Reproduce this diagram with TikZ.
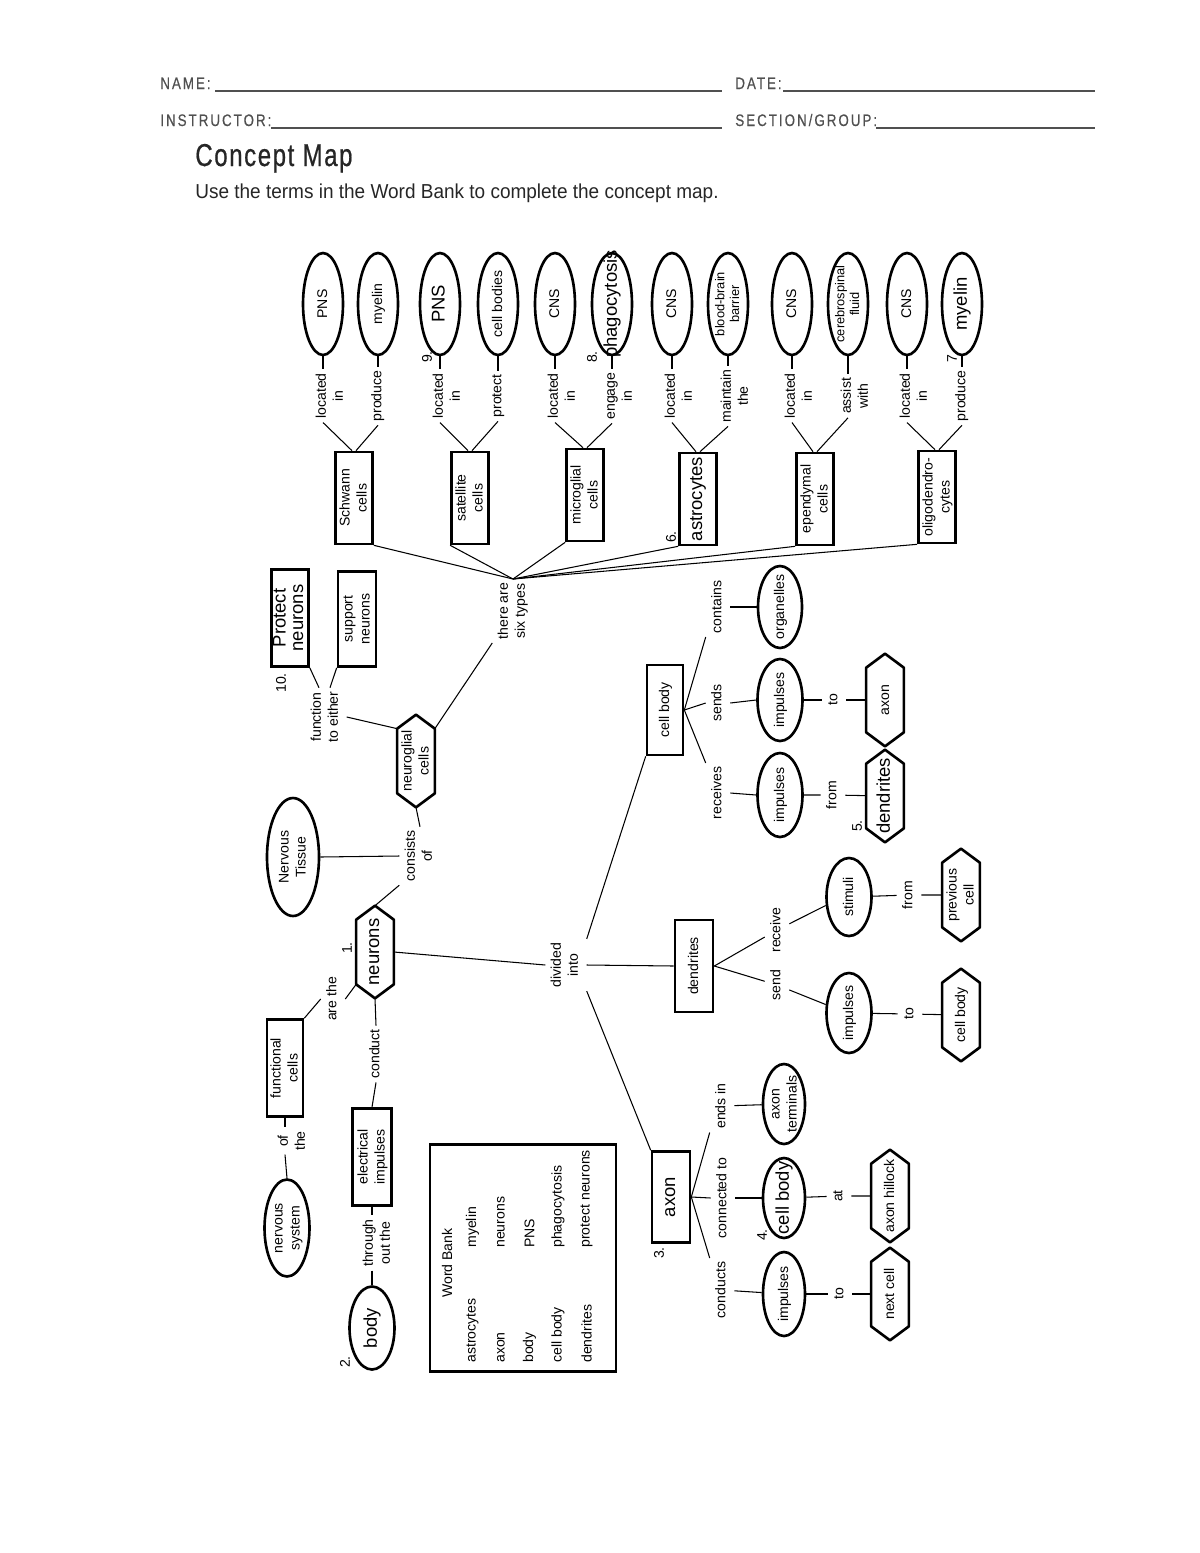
\documentclass[tikz,border=0pt]{standalone}
\usepackage{fontspec}
\setmainfont{Liberation Sans}
\newfontfamily\hdrfont[FakeStretch=0.8,LetterSpace=12,FakeBold=0.4]{Liberation Sans}
\newfontfamily\ttlfont[FakeStretch=0.76,LetterSpace=5,FakeBold=0.6]{Liberation Sans}
\newfontfamily\insfont[FakeStretch=0.94]{Liberation Sans}
\usetikzlibrary{shapes.geometric}
\definecolor{hdrgray}{RGB}{80,80,80}
\newcommand\smtxt{\fontsize{8}{9.6}\selectfont}
\newcommand\tinytxt{\fontsize{7.3}{8.4}\selectfont}
\newcommand\bigtxt{\fontsize{10.5}{10}\selectfont}
\newcommand\vt[1]{\rotatebox{90}{\begin{tabular}{@{}c@{}}#1\end{tabular}}}
\newcommand\vz[1]{\rotatebox{90}{\makebox[0pt]{\raisebox{-.3em}[0pt][0pt]{\begin{tabular}{@{}c@{}}#1\end{tabular}}}}}

\begin{document}
\begin{tikzpicture}[x=0.02cm,y=-0.02cm,
  oval/.style={ellipse, draw, line width=1.5pt, inner sep=0pt, minimum width=.8cm, minimum height=2.04cm, font=\smtxt},
  cbox/.style={rectangle, draw, line width=1.5pt, inner sep=0pt, minimum width=.74cm, minimum height=1.84cm, font=\smtxt},
  hexa/.style={inner sep=0pt, minimum width=.74cm, minimum height=1.84cm, font=\smtxt,
    append after command={\pgfextra{\draw[line width=1.5pt, line join=round]
      (\tikzlastnode.north) -- ([yshift=-.28cm]\tikzlastnode.north east)
      -- ([yshift=.28cm]\tikzlastnode.south east) -- (\tikzlastnode.south)
      -- ([yshift=.28cm]\tikzlastnode.south west) -- ([yshift=-.28cm]\tikzlastnode.north west) -- cycle;}}},
  lbl/.style={inner sep=2pt, font=\smtxt},
  num/.style={rotate=90, inner sep=0pt, font=\smtxt},
  wrd/.style={rotate=90, anchor=west, inner sep=0pt, font=\smtxt},
  big/.style={font=\bigtxt},
  small/.style={font=\tinytxt},
  link/.style={line width=.6pt},
  hdr/.style={anchor=base west, inner sep=0pt, text=hdrgray, font=\hdrfont\fontsize{9.5}{10}\selectfont},
  rule/.style={hdrgray, line width=.9pt}]
\useasboundingbox (0,0) rectangle (1200,1553);

% header
\node[hdr] (nm) at (160,89) {NAME:};
\node[hdr] (dt) at (735,89) {DATE:};
\node[hdr] (ins) at (160,126) {INSTRUCTOR:};
\node[hdr] (sec) at (735,126) {SECTION/GROUP:};
\draw[rule] (215,91) -- (722,91);
\draw[rule] (783,91) -- (1095,91);
\draw[rule] (271,128) -- (722,128);
\draw[rule] (876,128) -- (1095,128);
\node[anchor=base west, inner sep=0pt, text=black!85, font=\ttlfont\fontsize{18}{20}\selectfont] (ttl) at (195,166) {Concept Map};
\node[anchor=base west, inner sep=0pt, text=black!85, font=\insfont\fontsize{11.5}{13}\selectfont] (intro) at (195,198) {Use the terms in the Word Bank to complete the concept map.};

% top row of ovals
\node[oval] (pnsA) at (323,304) {\vz{PNS}};
\node[oval] (myeA) at (378,304) {\vz{myelin}};
\node[oval,big] (pnsB) at (440,304) {\vz{PNS}};
\node[oval] (cbod) at (498,304) {\vz{cell bodies}};
\node[oval] (cnsC) at (555,304) {\vz{CNS}};
\node[oval,big] (phag) at (612,304) {\vz{phagocytosis}};
\node[oval] (cnsD) at (672,304) {\vz{CNS}};
\node[oval,small] (bbb) at (728,304) {\vz{blood-brain\\barrier}};
\node[oval] (cnsE) at (792,304) {\vz{CNS}};
\node[oval,small] (csf) at (848,304) {\vz{cerebrospinal\\fluid}};
\node[oval] (cnsF) at (907,304) {\vz{CNS}};
\node[oval,big] (myeF) at (962,304) {\vz{myelin}};
\node[num] (n9) at (427,357) {9.};
\node[num] (n8) at (592,357) {8.};
\node[num] (n7) at (952,357) {7.};

% link words, top row
\node[lbl] (locA) at (331,396) {\vt{located\\in}};
\node[lbl] (proA) at (378,396) {\vt{produce}};
\node[lbl] (locB) at (448,396) {\vt{located\\in}};
\node[lbl] (prtB) at (498,396) {\vt{protect}};
\node[lbl] (locC) at (563,396) {\vt{located\\in}};
\node[lbl] (engC) at (620,396) {\vt{engage\\in}};
\node[lbl] (locD) at (680,396) {\vt{located\\in}};
\node[lbl] (mntD) at (736,396) {\vt{maintain\\the}};
\node[lbl] (locE) at (800,396) {\vt{located\\in}};
\node[lbl] (asE) at (856,396) {\vt{assist\\with}};
\node[lbl] (locF) at (915,396) {\vt{located\\in}};
\node[lbl] (proF) at (962,396) {\vt{produce}};

% six cell types
\node[cbox] (schw) at (354,498) {\vz{Schwann\\cells}};
\node[cbox] (sat) at (470,498) {\vz{satellite\\cells}};
\node[cbox] (micro) at (585,495) {\vz{microglial\\cells}};
\node[cbox,big] (astro) at (698,499) {\vz{astrocytes}};
\node[cbox] (epen) at (815,499) {\vz{ependymal\\cells}};
\node[cbox] (oligo) at (937,497) {\vz{oligodendro-\\cytes}};
\node[num] (n6) at (671,537) {6.};

\foreach \e/\l/\b/\d in {pnsA/locA/schw/-.04, myeA/proA/schw/.04, pnsB/locB/sat/-.04, cbod/prtB/sat/.04,
    cnsC/locC/micro/-.04, phag/engC/micro/.04, cnsD/locD/astro/-.04, bbb/mntD/astro/.04,
    cnsE/locE/epen/-.04, csf/asE/epen/.04, cnsF/locF/oligo/-.04, myeF/proF/oligo/.04}
{
  \draw[link] (\e.south) -- (\e.south |- \l.north);
  \draw[link] (\e.south |- \l.south) -- ([xshift=\d cm]\b.north);
}

\node[lbl] (six) at (513,611) {\vt{there are\\six types}};
\draw[link] (schw.south east) -- (six.north);
\foreach \b in {sat,micro,astro,epen,oligo}
  \draw[link] (\b.south west) -- (six.north);

% neuroglia
\node[hexa] (glia) at (416,761) {\vz{neuroglial\\cells}};
\draw[link] (six.south west) -- ([yshift=-.28cm]glia.north east);
\node[cbox,big,minimum height=1.94cm] (prot) at (290,618) {\vz{Protect\\neurons}};
\node[cbox,minimum width=.76cm,minimum height=1.9cm] (supp) at (357,619) {\vz{support\\neurons}};
\node[num] (n10) at (281,683) {10.};
\node[lbl] (func) at (326,717) {\vt{function\\to either}};
\draw[link] ([xshift=-.14cm]func.north) -- (prot.south east);
\draw[link] ([xshift=.08cm]func.north) -- (supp.south west);
\draw[link] (func.east) -- ([yshift=-.28cm]glia.north west);

% nervous tissue
\node[oval,minimum width=1.04cm,minimum height=2.36cm] (tissue) at (293,857) {\vz{Nervous\\Tissue}};
\node[lbl] (cons) at (420,856) {\vt{consists\\of}};
\node[hexa,big] (neur) at (375,952) {\vz{neurons}};
\node[num] (n1) at (347,948) {1.};
\draw[link] (glia.south) -- (cons.north);
\draw[link] (tissue.east) -- (cons.west);
\draw[link] (cons.south west) -- (neur.north);

% neurons, left branch
\node[lbl] (arethe) at (333,999) {\vt{are the}};
\node[cbox,minimum width=.72cm,minimum height=1.94cm] (fcell) at (285,1068) {\vz{functional\\cells}};
\draw[link] ([yshift=.28cm]neur.south west) -- (arethe.east);
\draw[link] (arethe.west) -- (fcell.north east);
\node[lbl] (cond) at (376,1054) {\vt{conduct}};
\node[cbox,minimum width=.78cm,minimum height=1.94cm] (elec) at (372,1157) {\vz{electrical\\impulses}};
\draw[link] (neur.south) -- (cond.north);
\draw[link] (cond.south) -- (elec.north);
\node[lbl] (ofthe) at (293,1141) {\vt{of\\the}};
\node[oval,minimum width=.9cm,minimum height=1.94cm] (nsys) at (287,1228) {\vz{nervous\\system}};
\draw[link] (fcell.south) -- (fcell.south |- ofthe.north);
\draw[link] (fcell.south |- ofthe.south) -- (nsys.north);
\node[lbl] (thru) at (378,1243) {\vt{through\\out the}};
\node[oval,big,minimum width=.9cm,minimum height=1.66cm] (body) at (372,1328) {\vz{body}};
\node[num] (n2) at (345,1362) {2.};
\draw[link] (elec.south) -- (elec.south |- thru.north);
\draw[link] (elec.south |- thru.south) -- (body.north);

% word bank
\node[draw, line width=1.2pt, minimum width=3.72cm, minimum height=4.54cm] (bank) at (523,1258) {};
\node[wrd] (bankT) at (447,1298) {Word Bank};
\foreach \a/\b [count=\i] in {astrocytes/myelin, axon/neurons, body/PNS, cell body/phagocytosis, dendrites/protect neurons}
{
  \node[wrd] (wa\i) at ({444+28.5*\i},1363) {\a};
  \node[wrd] (wz\i) at ({444+28.5*\i},1248) {\b};
}

% divided into
\node[lbl] (divi) at (566,965) {\vt{divided\\into}};
\draw[link] (neur.east) -- (divi.west);

% cell body branch
\node[cbox,minimum width=.72cm,minimum height=1.8cm] (soma) at (665,710) {\vz{cell body}};
\draw[link] (divi.north east) -- (soma.south west);
\node[lbl] (cont) at (718,607) {\vt{contains}};
\node[oval,minimum width=.88cm,minimum height=1.64cm] (organ) at (780,607) {\vz{organelles}};
\draw[link] (soma.east) -- (cont.south west);
\draw[link] (cont) -- (organ);
\node[lbl] (sends) at (718,703) {\vt{sends}};
\node[oval,minimum width=.9cm,minimum height=1.64cm] (impA) at (780,700) {\vz{impulses}};
\node[lbl] (toA) at (834,700) {\vt{to}};
\node[hexa] (axhex) at (885,700) {\vz{axon}};
\draw[link] (soma.east) -- (sends.west);
\draw[link] (sends.east) -- (impA.west);
\draw[link] (impA) -- (toA) -- (axhex);
\node[lbl] (recs) at (718,793) {\vt{receives}};
\node[oval,minimum width=.9cm,minimum height=1.68cm] (impB) at (780,795) {\vz{impulses}};
\node[lbl] (fromB) at (833,795) {\vt{from}};
\node[hexa,big] (denhex) at (885,796) {\vz{dendrites}};
\node[num] (n5) at (857,826) {5.};
\draw[link] (soma.east) -- (recs.north west);
\draw[link] (recs.east) -- (impB.west);
\draw[link] (impB) -- (fromB) -- (denhex);

% dendrites branch
\node[cbox,minimum width=.76cm] (dend) at (694,966) {\vz{dendrites}};
\draw[link] (divi.east) -- (dend.west);
\node[lbl] (recv) at (777,930) {\vt{receive}};
\node[lbl] (send) at (777,985) {\vt{send}};
\node[oval,minimum width=.9cm,minimum height=1.56cm] (stim) at (849,897) {\vz{stimuli}};
\node[oval,minimum width=.9cm,minimum height=1.6cm] (impC) at (849,1013) {\vz{impulses}};
\draw[link] (dend.east) -- (recv) -- (stim.200);
\draw[link] (dend.east) -- (send) -- (impC.160);
\node[lbl] (fromC) at (909,895) {\vt{from}};
\node[hexa] (prev) at (961,895) {\vz{previous\\cell}};
\draw[link] (stim) -- (fromC) -- (prev);
\node[lbl] (toC) at (910,1014) {\vt{to}};
\node[hexa] (cbhex) at (961,1015) {\vz{cell body}};
\draw[link] (impC) -- (toC) -- (cbhex);

% axon branch
\node[cbox,big,minimum width=.76cm,minimum height=1.82cm] (axn) at (671,1197) {\vz{axon}};
\node[num] (n3) at (659,1253) {3.};
\draw[link] (divi.south east) -- (axn.north west);
\node[lbl] (endsin) at (722,1106) {\vt{ends in}};
\node[oval,minimum width=.84cm,minimum height=1.6cm] (term) at (784,1104) {\vz{axon\\terminals}};
\draw[link] (axn.east) -- (endsin.south west);
\draw[link] (endsin) -- (term);
\node[lbl] (conto) at (723,1198) {\vt{connected to}};
\node[oval,big,minimum width=.84cm,minimum height=1.6cm] (cbell) at (784,1198) {\vz{cell body}};
\node[num] (n4) at (762,1235) {4.};
\draw[link] (axn.east) -- (conto.west);
\draw[link] (conto) -- (cbell);
\node[lbl] (atl) at (839,1196) {\vt{at}};
\node[hexa] (hill) at (890,1196) {\vz{axon hillock}};
\draw[link] (cbell) -- (atl) -- (hill);
\node[lbl] (cdts) at (722,1290) {\vt{conducts}};
\node[oval,minimum width=.84cm,minimum height=1.68cm] (impD) at (784,1294) {\vz{impulses}};
\draw[link] (axn.east) -- (cdts.north west);
\draw[link] (cdts) -- (impD);
\node[lbl] (toD) at (840,1294) {\vt{to}};
\node[hexa] (next) at (890,1294) {\vz{next cell}};
\draw[link] (impD) -- (toD) -- (next);

\end{tikzpicture}
\end{document}
